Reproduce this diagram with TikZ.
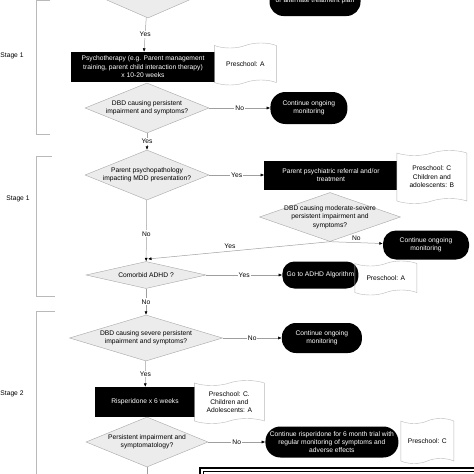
\documentclass[tikz,border=0pt]{standalone}
\usepackage{fontspec}
\setmainfont{Liberation Sans}
\usetikzlibrary{positioning,arrows.meta,shapes.geometric,shapes.symbols}

\begin{document}
\begin{tikzpicture}[x=1pt,y=-1pt,font=\fontsize{6.7}{8.4}\selectfont,decision/.style={diamond,aspect=2.6,draw=gray!70,fill=gray!15,inner xsep=-3pt,inner ysep=-3.5pt,align=center},block/.style={rectangle,fill=black,text=white,inner sep=1pt,align=center},pill/.style={rectangle,rounded corners=13pt,fill=black,text=white,inner sep=1pt,align=center},doc/.style={tape,draw=gray!55,inner sep=1pt,align=center},arrow/.style={draw=gray!75,line width=0.5pt,-{Latex[black,length=3.5pt,width=3pt]}},lbl/.style={fill=white,inner sep=1pt},bracket/.style={draw=gray!55,line width=0.6pt}]
  \useasboundingbox (0,0) rectangle (474,474);

  % stage brackets
  \draw[bracket] (50,0) -| (36,134) -- (50,134);
  \draw[bracket] (52,156) -| (36,296) -- (55,296);
  \draw[bracket] (55,311) -| (36,476);
  \node (stage_a) at (12,56) {Stage 1};
  \node (stage_b) at (18,199) {Stage 1};
  \node (stage_c) at (12,394) {Stage 2};

  % first block
  \node[decision,minimum width=124pt,minimum height=54pt] (start) at (148,-9) {};
  \node[pill,minimum width=91pt,minimum height=30pt,rounded corners=14pt] (alt) at (315,1) {or alternate treatment plan};
  \node[block,minimum width=144pt,minimum height=30pt] (psych) at (143,67) {Psychotherapy (e.g. Parent management\\training, parent child interaction therapy)\\x 10-20 weeks};
  \node[doc,right=-1pt of psych,yshift=3pt,minimum width=62pt,minimum height=42pt] (psych_ev) {Preschool: A};
  \node[decision,minimum width=124pt,minimum height=50pt] (dbd_pers) at (147,108) {DBD causing persistent\\impairment and symptoms?};
  \node[pill,right=61pt of dbd_pers,minimum width=77pt,minimum height=32pt,rounded corners=15pt] (mon_a) {Continue ongoing\\monitoring};

  % second block
  \node[decision,minimum width=124pt,minimum height=50pt] (parent) at (147,175) {Parent psychopathology\\impacting MDD presentation?};
  \node[block,right=55pt of parent,minimum width=133pt,minimum height=29pt] (referral) {Parent psychiatric referral and/or\\treatment};
  \node[doc,right=-1pt of referral,yshift=-2pt,minimum width=70pt,minimum height=53pt] (referral_ev) {Preschool: C\\Children and\\adolescents: B};
  \node[decision,minimum width=141pt,minimum height=48pt] (dbd_mod) at (330,217) {DBD causing moderate-severe\\persistent impairment and\\symptoms?};
  \node[pill,minimum width=86pt,minimum height=29pt] (mon_b) at (426,245) {Continue ongoing\\monitoring};
  \node[decision,minimum width=120pt,minimum height=27pt] (adhd) at (146,275) {Comorbid ADHD ?};
  \node[pill,right=76pt of adhd,minimum width=76pt,minimum height=27pt,rounded corners=12pt] (adhd_alg) {Go to ADHD Algorithm};
  \node[doc,right=-4pt of adhd_alg,yshift=-3pt,minimum width=62pt,minimum height=34pt] (adhd_ev) {Preschool: A};
  \coordinate (join) at (148,259);

  % stage 2
  \node[decision,minimum width=153pt,minimum height=46pt] (dbd_sev) at (146,338) {DBD causing severe persistent\\impairment and symptoms?};
  \node[pill,right=59pt of dbd_sev,minimum width=80pt,minimum height=30pt,rounded corners=14pt] (mon_c) {Continue ongoing\\monitoring};
  \node[block,minimum width=100pt,minimum height=30pt] (risp) at (145,402) {Risperidone x 6 weeks};
  \node[doc,right=-1pt of risp,minimum width=70pt,minimum height=43pt] (risp_ev) {Preschool: C.\\Children and\\Adolescents: A};
  \node[decision,minimum width=122pt,minimum height=50pt] (persist) at (147,442) {Persistent impairment and\\symptomatology?};
  \node[pill,right=57pt of persist,minimum width=133pt,minimum height=31pt,rounded corners=15pt] (cont_risp) {Continue risperidone for 6 month trial with\\regular monitoring of symptoms and\\adverse effects};
  \node[doc,right=2pt of cont_risp,yshift=1pt,minimum width=53pt,minimum height=45pt] (cont_ev) {Preschool: C};
  \coordinate (bottom_end) at (147,476);

  \draw[arrow] (start) -- node[lbl] {Yes} (psych);
  \draw[arrow] (dbd_pers) -- node[lbl] {No} (mon_a);
  \draw[arrow] (dbd_pers) -- node[lbl] {Yes} (parent);
  \draw[arrow] (parent) -- node[lbl] {Yes} (referral);
  \draw[arrow] (parent) -- node[lbl,pos=0.55] {No} (adhd);
  \draw[arrow] (dbd_mod.south) -- node[above,pos=0.55,inner sep=2pt] {Yes} (join);
  \draw[arrow] (dbd_mod.south) -- node[above,pos=0.5,inner sep=2pt] {No} (mon_b);
  \draw[arrow] (adhd) -- node[lbl] {Yes} (adhd_alg);
  \draw[arrow] (adhd) -- node[lbl] {No} (dbd_sev);
  \draw[arrow] (dbd_sev) -- node[lbl] {No} (mon_c);
  \draw[arrow] (dbd_sev) -- node[lbl] {Yes} (risp);
  \draw[arrow] (persist) -- node[lbl] {No} (cont_risp);
  \draw[draw=gray!75,line width=0.5pt] (persist) -- (bottom_end);

  % legend frame
  \draw[line width=1.2pt] (200,468) rectangle (480,482);
  \draw[line width=0.4pt] (203,471) rectangle (480,482);
\end{tikzpicture}
\end{document}
